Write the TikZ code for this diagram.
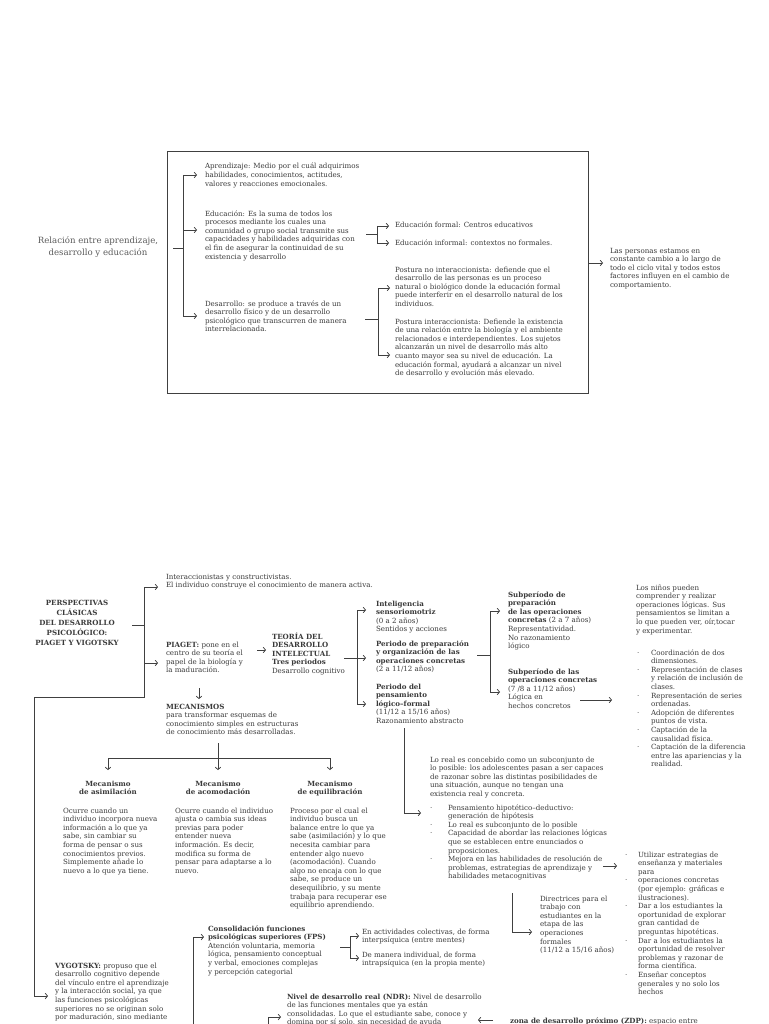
\documentclass[tikz,border=0pt]{standalone}
\usepackage{fontspec}
\setmainfont{DejaVu Serif}
\usetikzlibrary{arrows.meta}
\definecolor{tc}{HTML}{3A3A3A}
\definecolor{lc}{HTML}{404040}
\definecolor{gc}{HTML}{5A5A5A}
\newcommand\fl{\rule{0pt}{7pt}}
\newcommand\bi{\makebox[14pt][l]{·}}
\newcommand\bc{\hspace*{14pt}}
\newcommand\bj{\makebox[18pt][l]{·}}
\newcommand\bk{\hspace*{18pt}}
\newcommand\bm{\makebox[13pt][l]{·}}
\newcommand\bn{\hspace*{13pt}}
\begin{document}
\begin{tikzpicture}[x=1pt,y=-1pt,
  txt/.style={inner sep=0pt, outer sep=0pt, align=left, anchor=north west, text=tc, font=\fontsize{7.1}{8.6}\selectfont},
  ctx/.style={txt, align=center, anchor=north},
  ln/.style={draw=lc, line width=0.75pt},
  ar/.style={ln, -{Straight Barb[length=2.3pt,width=5.5pt]}},
]
\useasboundingbox (0,0) rectangle (768,1024);
\clip (0,0) rectangle (768,1024);
\fill[white] (0,0) rectangle (768,1024);

% ---------------- top section ----------------
\node[draw=lc, line width=0.8pt, minimum width=421pt, minimum height=242pt, anchor=north west, inner sep=0pt] (frame) at (167,151) {};
\node[inner sep=0pt, align=center, text=gc, font=\fontsize{8.6}{12}\selectfont] (rel) at (98,247) {Relación entre aprendizaje,\\desarrollo y educación};

\node[txt] (ap) at (205,162) {\fl Aprendizaje: Medio por el cuál adquirimos\\habilidades, conocimientos, actitudes,\\valores y reacciones emocionales.};
\node[txt] (ed) at (205,209) {\fl Educación: Es la suma de todos los\\procesos mediante los cuales una\\comunidad o grupo social transmite sus\\capacidades y habilidades adquiridas con\\el fin de asegurar la continuidad de su\\existencia y desarrollo};
\node[txt] (de) at (205,299) {\fl Desarrollo: se produce a través de un\\desarrollo físico y de un desarrollo\\psicológico que transcurren de manera\\interrelacionada.};
\node[txt] (ef) at (395,221) {\fl Educación formal: Centros educativos};
\node[txt] (ei) at (395,238) {\fl Educación informal: contextos no formales.};
\node[txt] (pn) at (395,265) {\fl Postura no interaccionista: defiende que el\\desarrollo de las personas es un proceso\\natural o biológico donde la educación formal\\puede interferir en el desarrollo natural de los\\individuos.};
\node[txt] (pi) at (395,317) {\fl Postura interaccionista: Defiende la existencia\\de una relación entre la biología y el ambiente\\relacionados e interdependientes. Los sujetos\\alcanzarán un nivel de desarrollo más alto\\cuanto mayor sea su nivel de educación. La\\educación formal, ayudará a alcanzar un nivel\\de desarrollo y evolución más elevado.};
\node[txt] (lp) at (610,246) {\fl Las personas estamos en\\constante cambio a lo largo de\\todo el ciclo vital y todos estos\\factores influyen en el cambio de\\comportamiento.};

\draw[ln] (173,248) -- (183,248);
\draw[ln] (183,175) -- (183,316);
\draw[ar, shorten >=8pt] (183,175) -- (ap.west |- 0,175);
\draw[ar, shorten >=8pt] (183,230) -- (ed.west |- 0,230);
\draw[ar, shorten >=8pt] (183,316) -- (de.west |- 0,316);
\draw[ln] (366,234) -- (377,234);
\draw[ln] (377,226) -- (377,243);
\draw[ar, shorten >=6pt] (377,226) -- (ef.west |- 0,226);
\draw[ar, shorten >=6pt] (377,243) -- (ei.west |- 0,243);
\draw[ln] (365,319) -- (378,319);
\draw[ln] (378,288) -- (378,355);
\draw[ar, shorten >=5pt] (378,288) -- (pn.west |- 0,288);
\draw[ar, shorten >=5pt] (378,355) -- (pi.west |- 0,355);
\draw[ar, shorten >=7pt] (frame.east |- 0,263) -- (lp.west |- 0,263);

% ---------------- bottom section ----------------
\node[ctx, font=\bfseries\fontsize{7.1}{10}\selectfont] (persp) at (77,598) {\fl PERSPECTIVAS\\CLÁSICAS\\DEL DESARROLLO\\PSICOLÓGICO:\\PIAGET Y VIGOTSKY};
\node[txt] (inter) at (166,572) {\fl Interaccionistas y constructivistas.\\El individuo construye el conocimiento de manera activa.};
\node[txt] (piaget) at (166,640) {\fl\textbf{PIAGET:} pone en el\\centro de su teoría el\\papel de la biología y\\la maduración.};
\node[txt] (mec) at (166,702) {\fl\textbf{MECANISMOS}\\para transformar esquemas de\\conocimiento simples en estructuras\\de conocimiento más desarrolladas.};
\node[txt] (teo) at (272,632) {\fl\textbf{TEORÍA DEL}\\\textbf{DESARROLLO}\\\textbf{INTELECTUAL}\\\textbf{Tres periodos}\\Desarrollo cognitivo};
\node[txt] (intel) at (376,599) {\fl\textbf{Inteligencia}\\\textbf{sensoriomotriz}\\(0 a 2 años)\\Sentidos y acciones};
\node[txt] (prep) at (376,639) {\fl\textbf{Periodo de preparación}\\\textbf{y organización de las}\\\textbf{operaciones concretas}\\(2 a 11/12 años)};
\node[txt] (pens) at (376,682) {\fl\textbf{Periodo del}\\\textbf{pensamiento}\\\textbf{lógico–formal}\\(11/12 a 15/16 años)\\Razonamiento abstracto};
\node[txt] (sub1) at (508,590) {\fl\textbf{Subperíodo de}\\\textbf{preparación}\\\textbf{de las operaciones}\\\textbf{concretas} (2 a 7 años)\\Representatividad.\\No razonamiento\\lógico};
\node[txt] (sub2) at (508,667) {\fl\textbf{Subperíodo de las}\\\textbf{operaciones concretas}\\(7 /8 a 11/12 años)\\Lógica en\\hechos concretos};
\node[txt] (ninos) at (636,583) {\fl Los niños pueden\\comprender y realizar\\operaciones lógicas. Sus\\pensamientos se limitan a\\lo que pueden ver, oír,tocar\\y experimentar.};
\node[txt] (lista) at (637,648) {\fl\bi Coordinación de dos\\\bc dimensiones.\\\bi Representación de clases\\\bc y relación de inclusión de\\\bc clases.\\\bi Representación de series\\\bc ordenadas.\\\bi Adopción de diferentes\\\bc puntos de vista.\\\bi Captación de la\\\bc causalidad física.\\\bi Captación de la diferencia\\\bc entre las apariencias y la\\\bc realidad.};

\node[ctx, font=\bfseries\fontsize{7.1}{8.6}\selectfont] (mh1) at (108,779) {\fl Mecanismo\\de asimilación};
\node[ctx, font=\bfseries\fontsize{7.1}{8.6}\selectfont] (mh2) at (218,779) {\fl Mecanismo\\de acomodación};
\node[ctx, font=\bfseries\fontsize{7.1}{8.6}\selectfont] (mh3) at (330,779) {\fl Mecanismo\\de equilibración};
\node[txt] (asim) at (63,806) {\fl Ocurre cuando un\\individuo incorpora nueva\\información a lo que ya\\sabe, sin cambiar su\\forma de pensar o sus\\conocimientos previos.\\Simplemente añade lo\\nuevo a lo que ya tiene.};
\node[txt] (acom) at (175,806) {\fl Ocurre cuando el individuo\\ajusta o cambia sus ideas\\previas para poder\\entender nueva\\información. Es decir,\\modifica su forma de\\pensar para adaptarse a lo\\nuevo.};
\node[txt] (equi) at (290,806) {\fl Proceso por el cual el\\individuo busca un\\balance entre lo que ya\\sabe (asimilación) y lo que\\necesita cambiar para\\entender algo nuevo\\(acomodación). Cuando\\algo no encaja con lo que\\sabe, se produce un\\desequilibrio, y su mente\\trabaja para recuperar ese\\equilibrio aprendiendo.};

\node[txt] (real) at (430,755) {\fl Lo real es concebido como un subconjunto de\\lo posible: los adolescentes pasan a ser capaces\\de razonar sobre las distintas posibilidades de\\una situación, aunque no tengan una\\existencia real y concreta.};
\node[txt] (realb) at (430,803) {\fl\bj Pensamiento hipotético–deductivo:\\\bk generación de hipótesis\\\bj Lo real es subconjunto de lo posible\\\bj Capacidad de abordar las relaciones lógicas\\\bk que se establecen entre enunciados o\\\bk proposiciones.\\\bj Mejora en las habilidades de resolución de\\\bk problemas, estrategias de aprendizaje y\\\bk habilidades metacognitivas};
\node[txt] (direc) at (540,894) {\fl Directrices para el\\trabajo con\\estudiantes en la\\etapa de las\\operaciones\\formales\\(11/12 a 15/16 años)};
\node[txt] (util) at (625,850) {\fl\bm Utilizar estrategias de\\\bn enseñanza y materiales\\\bn para\\\bm operaciones concretas\\\bn (por ejemplo: gráficas e\\\bn ilustraciones).\\\bm Dar a los estudiantes la\\\bn oportunidad de explorar\\\bn gran cantidad de\\\bn preguntas hipotéticas.\\\bm Dar a los estudiantes la\\\bn oportunidad de resolver\\\bn problemas y razonar de\\\bn forma científica.\\\bm Enseñar conceptos\\\bn generales y no solo los\\\bn hechos};

\node[txt] (cons) at (208,924) {\fl\textbf{Consolidación funciones}\\\textbf{psicológicas superiores (FPS)}\\Atención voluntaria, memoria\\lógica, pensamiento conceptual\\y verbal, emociones complejas\\y percepción categorial};
\node[txt] (col) at (362,927) {\fl En actividades colectivas, de forma\\interpsíquica (entre mentes)};
\node[txt] (ind) at (362,950) {\fl De manera individual, de forma\\intrapsíquica (en la propia mente)};
\node[txt] (vyg) at (55,961) {\fl\textbf{VYGOTSKY:} propuso que el\\desarrollo cognitivo depende\\del vínculo entre el aprendizaje\\y la interacción social, ya que\\las funciones psicológicas\\superiores no se originan solo\\por maduración, sino mediante};
\node[txt] (ndr) at (287,992) {\fl\textbf{Nivel de desarrollo real (NDR):} Nivel de desarrollo\\de las funciones mentales que ya están\\consolidadas. Lo que el estudiante sabe, conoce y\\domina por sí solo, sin necesidad de ayuda};
\node[txt] (zdp) at (510,1016) {\fl\textbf{zona de desarrollo próximo (ZDP):} espacio entre};

% connectors bottom
\draw[ln] (132,625) -- (144,625);
\draw[ln] (144,587) -- (144,697) -- (34,697) -- (34,996);
\draw[ar, shorten >=8pt] (144,587) -- (inter.west |- 0,587);
\draw[ar, shorten >=8pt] (144,663) -- (piaget.west |- 0,663);
\draw[ar, shorten >=7pt] (34,996) -- (vyg.west |- 0,996);
\draw[ar] (199,688) -- (199,699);
\draw[ar, shorten >=6pt] (257,650) -- (teo.west |- 0,650);
\draw[ln] (344,658) -- (357,658);
\draw[ln] (357,610) -- (357,704);
\draw[ar, shorten >=10pt] (357,610) -- (intel.west |- 0,610);
\draw[ar, shorten >=10pt] (357,658) -- (prep.west |- 0,658);
\draw[ar, shorten >=10pt] (357,704) -- (pens.west |- 0,704);
\draw[ln] (477,655) -- (490,655);
\draw[ln] (490,611) -- (490,692);
\draw[ar, shorten >=8pt] (490,611) -- (sub1.west |- 0,611);
\draw[ar, shorten >=8pt] (490,692) -- (sub2.west |- 0,692);
\draw[ar] (580,700) -- (612,700);
\draw[ln] (404,728) -- (404,813);
\draw[ar, shorten >=9pt] (404,813) -- (realb.west |- 0,813);
\draw[ln] (218,743) -- (218,758);
\draw[ln] (108,758) -- (330,758);
\draw[ar] (108,758) -- (mh1.north |- 0,770);
\draw[ar] (218,758) -- (mh2.north |- 0,770);
\draw[ar] (330,758) -- (mh3.north |- 0,770);
\draw[ln] (512,893) -- (512,932);
\draw[ar, shorten >=8pt] (512,932) -- (direc.west |- 0,932);
\draw[ar] (603,866) -- (617,866);
\draw[ln] (193,937) -- (193,1024);
\draw[ar, shorten >=4pt] (193,937) -- (cons.west |- 0,937);
\draw[ln] (340,947) -- (350,947);
\draw[ln] (350,936) -- (350,958);
\draw[ar, shorten >=3pt] (350,936) -- (col.west |- 0,936);
\draw[ar, shorten >=3pt] (350,958) -- (ind.west |- 0,958);
\draw[ln] (268,1024) -- (268,1017);
\draw[ar, shorten >=6pt] (268,1017) -- (ndr.west |- 0,1017);
\draw[ar] (493,1020) -- (478,1020);
\end{tikzpicture}
\end{document}
